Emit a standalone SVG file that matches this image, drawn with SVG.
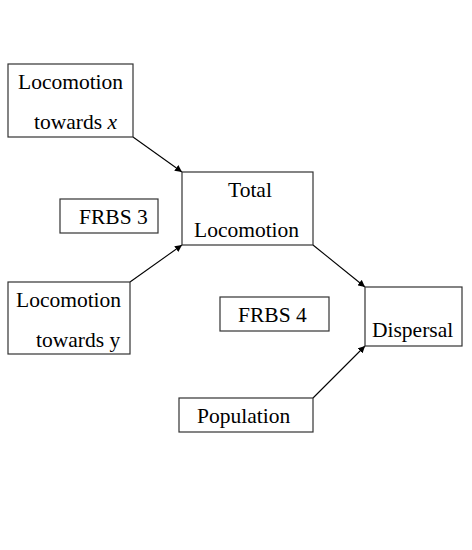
<svg xmlns="http://www.w3.org/2000/svg" width="472" height="550" viewBox="0 0 472 550">
<style>
.box{fill:#fff;stroke:#333;stroke-width:1.2}
.t{font-family:"Liberation Serif","Times New Roman",serif;font-size:21.5px;fill:#000}
.c{stroke:#000;stroke-width:1.1;fill:none;marker-end:url(#ah)}
</style>
<defs>
<marker id="ah" viewBox="0 0 10 10" refX="10" refY="5" markerWidth="7" markerHeight="7" markerUnits="userSpaceOnUse" orient="auto">
<path d="M0,0 L10,5 L0,10 z" fill="#000"/>
</marker>
</defs>
<rect width="472" height="550" fill="#fff"/>
<g id="connectors">
<line class="c" x1="133" y1="137" x2="182" y2="172"/>
<line class="c" x1="130" y1="282" x2="182" y2="245"/>
<line class="c" x1="313" y1="245" x2="365" y2="287"/>
<line class="c" x1="313" y1="398" x2="365" y2="346"/>
</g>
<g id="loc-x">
<rect class="box" x="8" y="64" width="125" height="73"/>
<text class="t" x="18" y="89">Locomotion</text>
<text class="t" x="34" y="129">towards <tspan font-style="italic">x</tspan></text>
</g>
<g id="frbs3">
<rect class="box" x="60" y="199" width="98" height="34"/>
<text class="t" x="79" y="224">FRBS 3</text>
</g>
<g id="total-loc">
<rect class="box" x="182" y="172" width="131" height="73"/>
<text class="t" x="228" y="197">Total</text>
<text class="t" x="194" y="237">Locomotion</text>
</g>
<g id="loc-y">
<rect class="box" x="8" y="282" width="122" height="72"/>
<text class="t" x="16" y="307">Locomotion</text>
<text class="t" x="36" y="347">towards y</text>
</g>
<g id="frbs4">
<rect class="box" x="220" y="297" width="109" height="34"/>
<text class="t" x="238" y="322">FRBS 4</text>
</g>
<g id="dispersal">
<rect class="box" x="365" y="287" width="97" height="59"/>
<text class="t" x="372" y="337">Dispersal</text>
</g>
<g id="population">
<rect class="box" x="179" y="398" width="134" height="34"/>
<text class="t" x="197" y="423">Population</text>
</g>
</svg>
